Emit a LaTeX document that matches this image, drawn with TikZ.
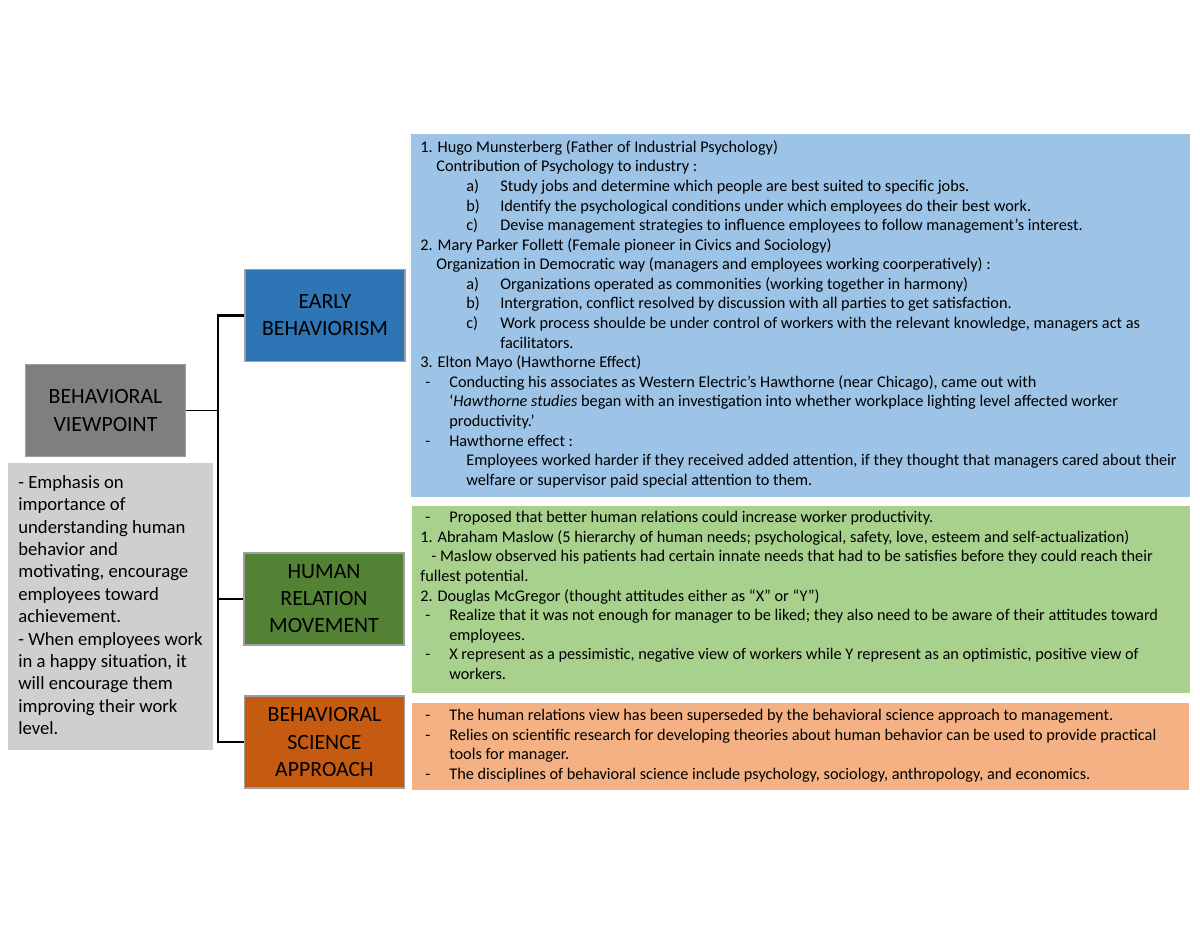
\documentclass[tikz,border=0pt]{standalone}
\usepackage{fontspec}
\setmainfont{Carlito}
\usepackage{xcolor}
\usetikzlibrary{positioning,calc}

\definecolor{vpgray}{HTML}{7F7F7F}
\definecolor{notegray}{HTML}{D0CECE}
\definecolor{ebblue}{HTML}{2E75B6}
\definecolor{hrgreen}{HTML}{548235}
\definecolor{bsorange}{HTML}{C55A11}
\definecolor{pblue}{HTML}{9DC3E6}
\definecolor{pgreen}{HTML}{A9D18E}
\definecolor{porange}{HTML}{F4B183}

% lines of the panels
\newcommand{\abcln}[2]{\hspace*{0.92cm}\makebox[0.68cm][l]{#1}#2}
\newcommand{\dashln}[1]{\hspace*{0.1cm}\makebox[0.48cm][l]{-}#1}
\newcommand{\indln}[2]{\hspace*{#1}#2}

\begin{document}
\begin{tikzpicture}[x=0.02cm, y=-0.02cm,
    cat/.style={draw=gray!75, line width=1pt, minimum width=3.2cm, minimum height=1.84cm,
      align=center, inner sep=0pt, font=\fontsize{12.4}{15.4}\selectfont},
    panel/.style={draw=white, line width=0.4pt, inner sep=0pt},
    ptext/.style={anchor=north west, align=left, inner sep=0pt,
      font=\fontsize{9.27}{11.15}\selectfont},
    branch/.style={line width=1.6pt},
    stem/.style={line width=0.9pt}]
    \useasboundingbox (0,0) rectangle (1200,927);
    % ---- left side : viewpoint and its note
    \node[cat, fill=vpgray] (view) at (105.5,410.5) {BEHAVIORAL\\VIEWPOINT};
    \node[fill=notegray, minimum width=4.1cm, minimum height=5.74cm, inner sep=0pt] (note) at (110.5,606.5) {};
    \node[anchor=north west, align=left, inner sep=0pt, font=\fontsize{10.64}{12.75}\selectfont]
      (notetext) at (18,475) {- Emphasis on\\importance of\\understanding human\\behavior and\\motivating, encourage\\employees toward\\achievement.\\- When employees work\\in a happy situation, it\\will encourage them\\improving their work\\level.};
    % ---- the three approaches
    \node[cat, fill=ebblue] (early) at (325,315.5) {EARLY\\BEHAVIORISM};
    \node[cat, fill=hrgreen] (human) at (324,599) {HUMAN\\RELATION\\MOVEMENT};
    \node[cat, fill=bsorange] (sci) at (324.5,742) {BEHAVIORAL\\SCIENCE\\APPROACH};
    \coordinate (spine) at (218,410.5);
    \draw[stem] (view.east) -- (spine);
    \draw[branch] (early.west) -| (spine) |- (sci.west);
    \draw[branch] (spine |- human.west) -- (human.west);
    % ---- panels
    \node[panel, fill=pblue, minimum width=15.6cm, minimum height=7.28cm] (pearly) at (800,315) {};
    \node[panel, fill=pgreen, minimum width=15.58cm, minimum height=3.76cm] (phuman) at (800.5,599) {};
    \node[panel, fill=porange, minimum width=15.56cm, minimum height=1.76cm] (psci) at (800,746) {};
    \node[ptext] (tearly) at (420,140) {%
      1. Hugo Munsterberg (Father of Industrial Psychology)\\
      \indln{0.32cm}{Contribution of Psychology to industry :}\\
      \abcln{a)}{Study jobs and determine which people are best suited to specific jobs.}\\
      \abcln{b)}{Identify the psychological conditions under which employees do their best work.}\\
      \abcln{c)}{Devise management strategies to influence employees to follow management’s interest.}\\
      2. Mary Parker Follett (Female pioneer in Civics and Sociology)\\
      \indln{0.32cm}{Organization in Democratic way (managers and employees working coorperatively) :}\\
      \abcln{a)}{Organizations operated as commonities (working together in harmony)}\\
      \abcln{b)}{Intergration, conflict resolved by discussion with all parties to get satisfaction.}\\
      \abcln{c)}{Work process shoulde be under control of workers with the relevant knowledge, managers act as}\\
      \indln{1.6cm}{facilitators.}\\
      3. Elton Mayo (Hawthorne Effect)\\
      \dashln{Conducting his associates as Western Electric’s Hawthorne (near Chicago), came out with}\\
      \indln{0.58cm}{‘\textit{Hawthorne studies} began with an investigation into whether workplace lighting level affected worker}\\
      \indln{0.58cm}{productivity.’}\\
      \dashln{Hawthorne effect :}\\
      \indln{0.92cm}{Employees worked harder if they received added attention, if they thought that managers cared about their}\\
      \indln{0.92cm}{welfare or supervisor paid special attention to them.}};
    \node[ptext] (thuman) at (420,511) {%
      \dashln{Proposed that better human relations could increase worker productivity.}\\
      1. Abraham Maslow (5 hierarchy of human needs; psychological, safety, love, esteem and self-actualization)\\
      \indln{0.22cm}{- Maslow observed his patients had certain innate needs that had to be satisfies before they could reach their}\\
      fullest potential.\\
      2. Douglas McGregor (thought attitudes either as “X” or “Y”)\\
      \dashln{Realize that it was not enough for manager to be liked; they also need to be aware of their attitudes toward}\\
      \indln{0.58cm}{employees.}\\
      \dashln{X represent as a pessimistic, negative view of workers while Y represent as an optimistic, positive view of}\\
      \indln{0.58cm}{workers.}};
    \node[ptext] (tsci) at (420,709) {%
      \dashln{The human relations view has been superseded by the behavioral science approach to management.}\\
      \dashln{Relies on scientific research for developing theories about human behavior can be used to provide practical}\\
      \indln{0.58cm}{tools for manager.}\\
      \dashln{The disciplines of behavioral science include psychology, sociology, anthropology, and economics.}};
  \end{tikzpicture}
\end{document}
